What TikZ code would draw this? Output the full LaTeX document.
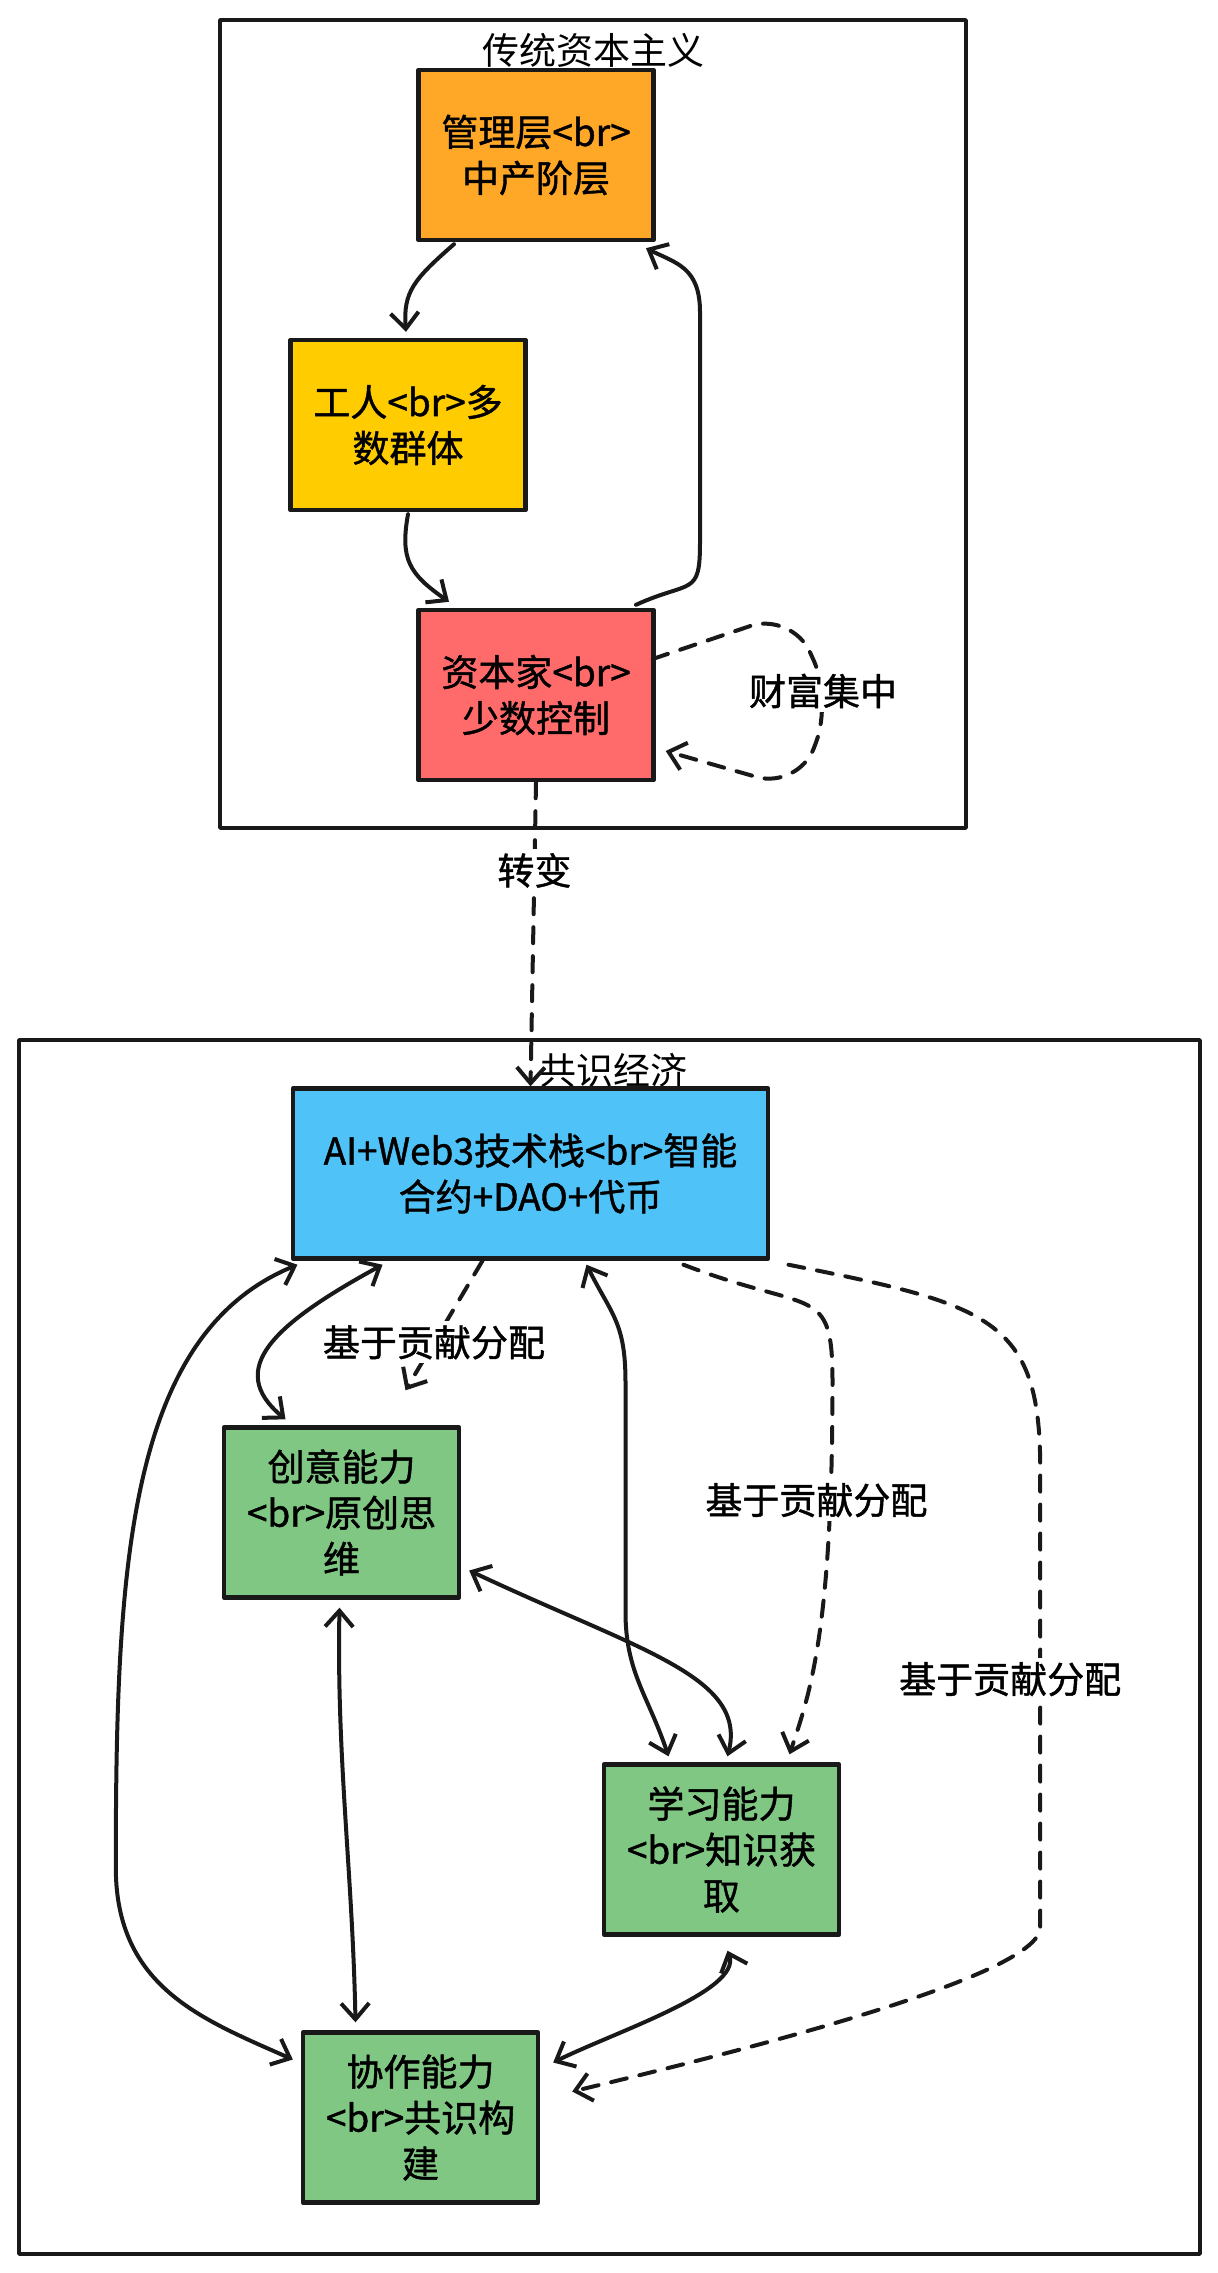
\documentclass[tikz,border=0pt]{standalone}
\usepackage{fontspec}
\setmainfont{Noto Sans CJK SC}
\newfontfamily\heavyfont{Noto Sans CJK SC}[FakeBold=1.2]
\usepackage{tikz}
\usetikzlibrary{arrows.meta,calc}
\definecolor{mgrorange}{HTML}{FFA726}
\definecolor{wkyellow}{HTML}{FFCC00}
\definecolor{capred}{HTML}{FF6B6B}
\definecolor{techblue}{HTML}{4FC3F7}
\definecolor{skillgreen}{HTML}{81C784}
\tikzset{
  txt/.style={font=\fontsize{18.5}{23}\selectfont},
  clusterbox/.style={rectangle,draw=black!90,line width=1.8pt,inner sep=0pt},
  classbox/.style={rectangle,draw=black!90,line width=2.2pt,
    minimum width=117.5pt,minimum height=85pt,align=center,
    font=\heavyfont\fontsize{18.5}{23}\selectfont,inner sep=2pt},
  techbox/.style={classbox,fill=techblue,minimum width=237.5pt},
  skillbox/.style={classbox,fill=skillgreen},
  lbl/.style={fill=white,inner sep=2pt,font=\heavyfont\fontsize{18.5}{23}\selectfont},
  arrow/.style={->,line width=2pt,draw=black!90},
  dbarrow/.style={<->,line width=2pt,draw=black!90},
  darrow/.style={->,line width=2pt,draw=black!90,dash pattern=on 8pt off 6.5pt},
}

\begin{document}
\begin{tikzpicture}[x=0.5pt,y=-0.5pt,>={Straight Barb[length=8pt,width=14pt]},
  line cap=round,line join=round]
  \useasboundingbox (0,0) rectangle (1217,2273);
  \node[clusterbox,minimum width=373pt,minimum height=404pt] (capcl) at (593,424) {};
  \node[txt] (captitle) at (593,50) {传统资本主义};
  \node[classbox,fill=mgrorange] (mgr) at (536,155) {管理层<br>\\中产阶层};
  \node[classbox,fill=wkyellow] (wk) at (408,425) {工人<br>多\\数群体};
  \node[classbox,fill=capred] (cap) at (536,695) {资本家<br>\\少数控制};

  \node[clusterbox,minimum width=590.5pt,minimum height=607pt] (concl) at (609.5,1647) {};
  \node[txt] (contitle) at (613,1070) {共识经济};
  \node[techbox] (ai) at (530.5,1173.5) {AI+Web3技术栈<br>智能\\合约+DAO+代币};
  \node[skillbox] (cre) at (341.5,1512.5) {创意能力\\<br>原创思\\维};
  \node[skillbox] (lrn) at (721.5,1849.5) {学习能力\\<br>知识获\\取};
  \node[skillbox] (col) at (420.5,2117.5) {协作能力\\<br>共识构\\建};

  \draw[arrow] ($(mgr.south)+(-82,2)$) .. controls +(-40,35) and +(-3,-40) .. ($(wk.north)+(-2,-6)$);
  \draw[arrow] ($(wk.south)+(0,2)$) .. controls +(-8,45) and +(-40,-28) .. ($(cap.north)+(-87,-6)$);
  \draw[arrow] ($(cap.north)+(100,-3)$) .. controls +(55,-25) and +(0,55) .. ($(mgr.south)+(164,300)$)
    -- ($(mgr.south)+(164,70)$) .. controls +(0,-45) and +(30,15) .. ($(mgr.south)+(110,6)$);
  \draw[darrow,rounded corners=22pt] ($(cap.east)+(-3,-36)$) -- ($(cap.east)+(136,-83)$)
    -- ($(cap.east)+(176,5)$) -- ($(cap.east)+(143,94)$) -- ($(cap.east)+(10,56)$);
  \node[lbl] (wealth) at (823,691) {财富集中};
  \draw[darrow] (cap.south) -- node[lbl,pos=0.29] {转变} (ai.north);

  \draw[dbarrow] ($(ai.south)+(-233,4)$) .. controls +(-170,70) and +(0,-300) .. ($(col.west)+(-185,-250)$)
    .. controls +(0,120) and +(-90,-40) .. ($(col.west)+(-8,-58)$);
  \draw[dbarrow] ($(ai.south)+(-148,4)$) .. controls +(-110,60) and +(-60,-50) .. ($(cre.north)+(-56,-6)$);
  \draw[dbarrow] ($(ai.south)+(56,4)$) .. controls +(25,50) and +(0,-60) .. ($(lrn.north)+(-96,-380)$)
    -- ($(lrn.north)+(-96,-150)$) .. controls +(0,60) and +(-20,-60) .. ($(lrn.north)+(-53,-6)$);
  \draw[dbarrow] ($(cre.east)+(8,58)$) .. controls +(170,80) and +(20,-80) .. ($(lrn.north)+(6,-6)$);
  \draw[dbarrow] ($(cre.south)+(-2,8)$) .. controls +(-3,150) and +(-3,-150) .. ($(col.north)+(-65,-8)$);
  \draw[dbarrow] ($(lrn.south)+(6,14)$) .. controls +(15,40) and +(60,-30) .. ($(col.east)+(13,-55)$);

  \draw[darrow] ($(ai.south)+(-48,0)$) -- node[lbl,pos=0.63] {基于贡献分配} ($(cre.north)+(64,-35)$);
  \draw[darrow] ($(ai.south)+(153,4)$) .. controls +(130,50) and +(0,-100) .. ($(lrn.north)+(111,-380)$)
    .. controls +(0,250) and +(20,-60) .. ($(lrn.north)+(68,-8)$)
    node[lbl,pos=0.18,xshift=-7pt] {基于贡献分配};
  \draw[darrow] ($(ai.south)+(258,4)$) .. controls +(200,40) and +(0,-150) .. ($(col.east)+(500,-650)$)
    -- ($(col.east)+(500,-190)$) node[lbl,pos=0.46,xshift=-15pt] {基于贡献分配}
    .. controls +(0,50) and +(150,-36) .. ($(col.east)+(32,-26)$);
\end{tikzpicture}
\end{document}
